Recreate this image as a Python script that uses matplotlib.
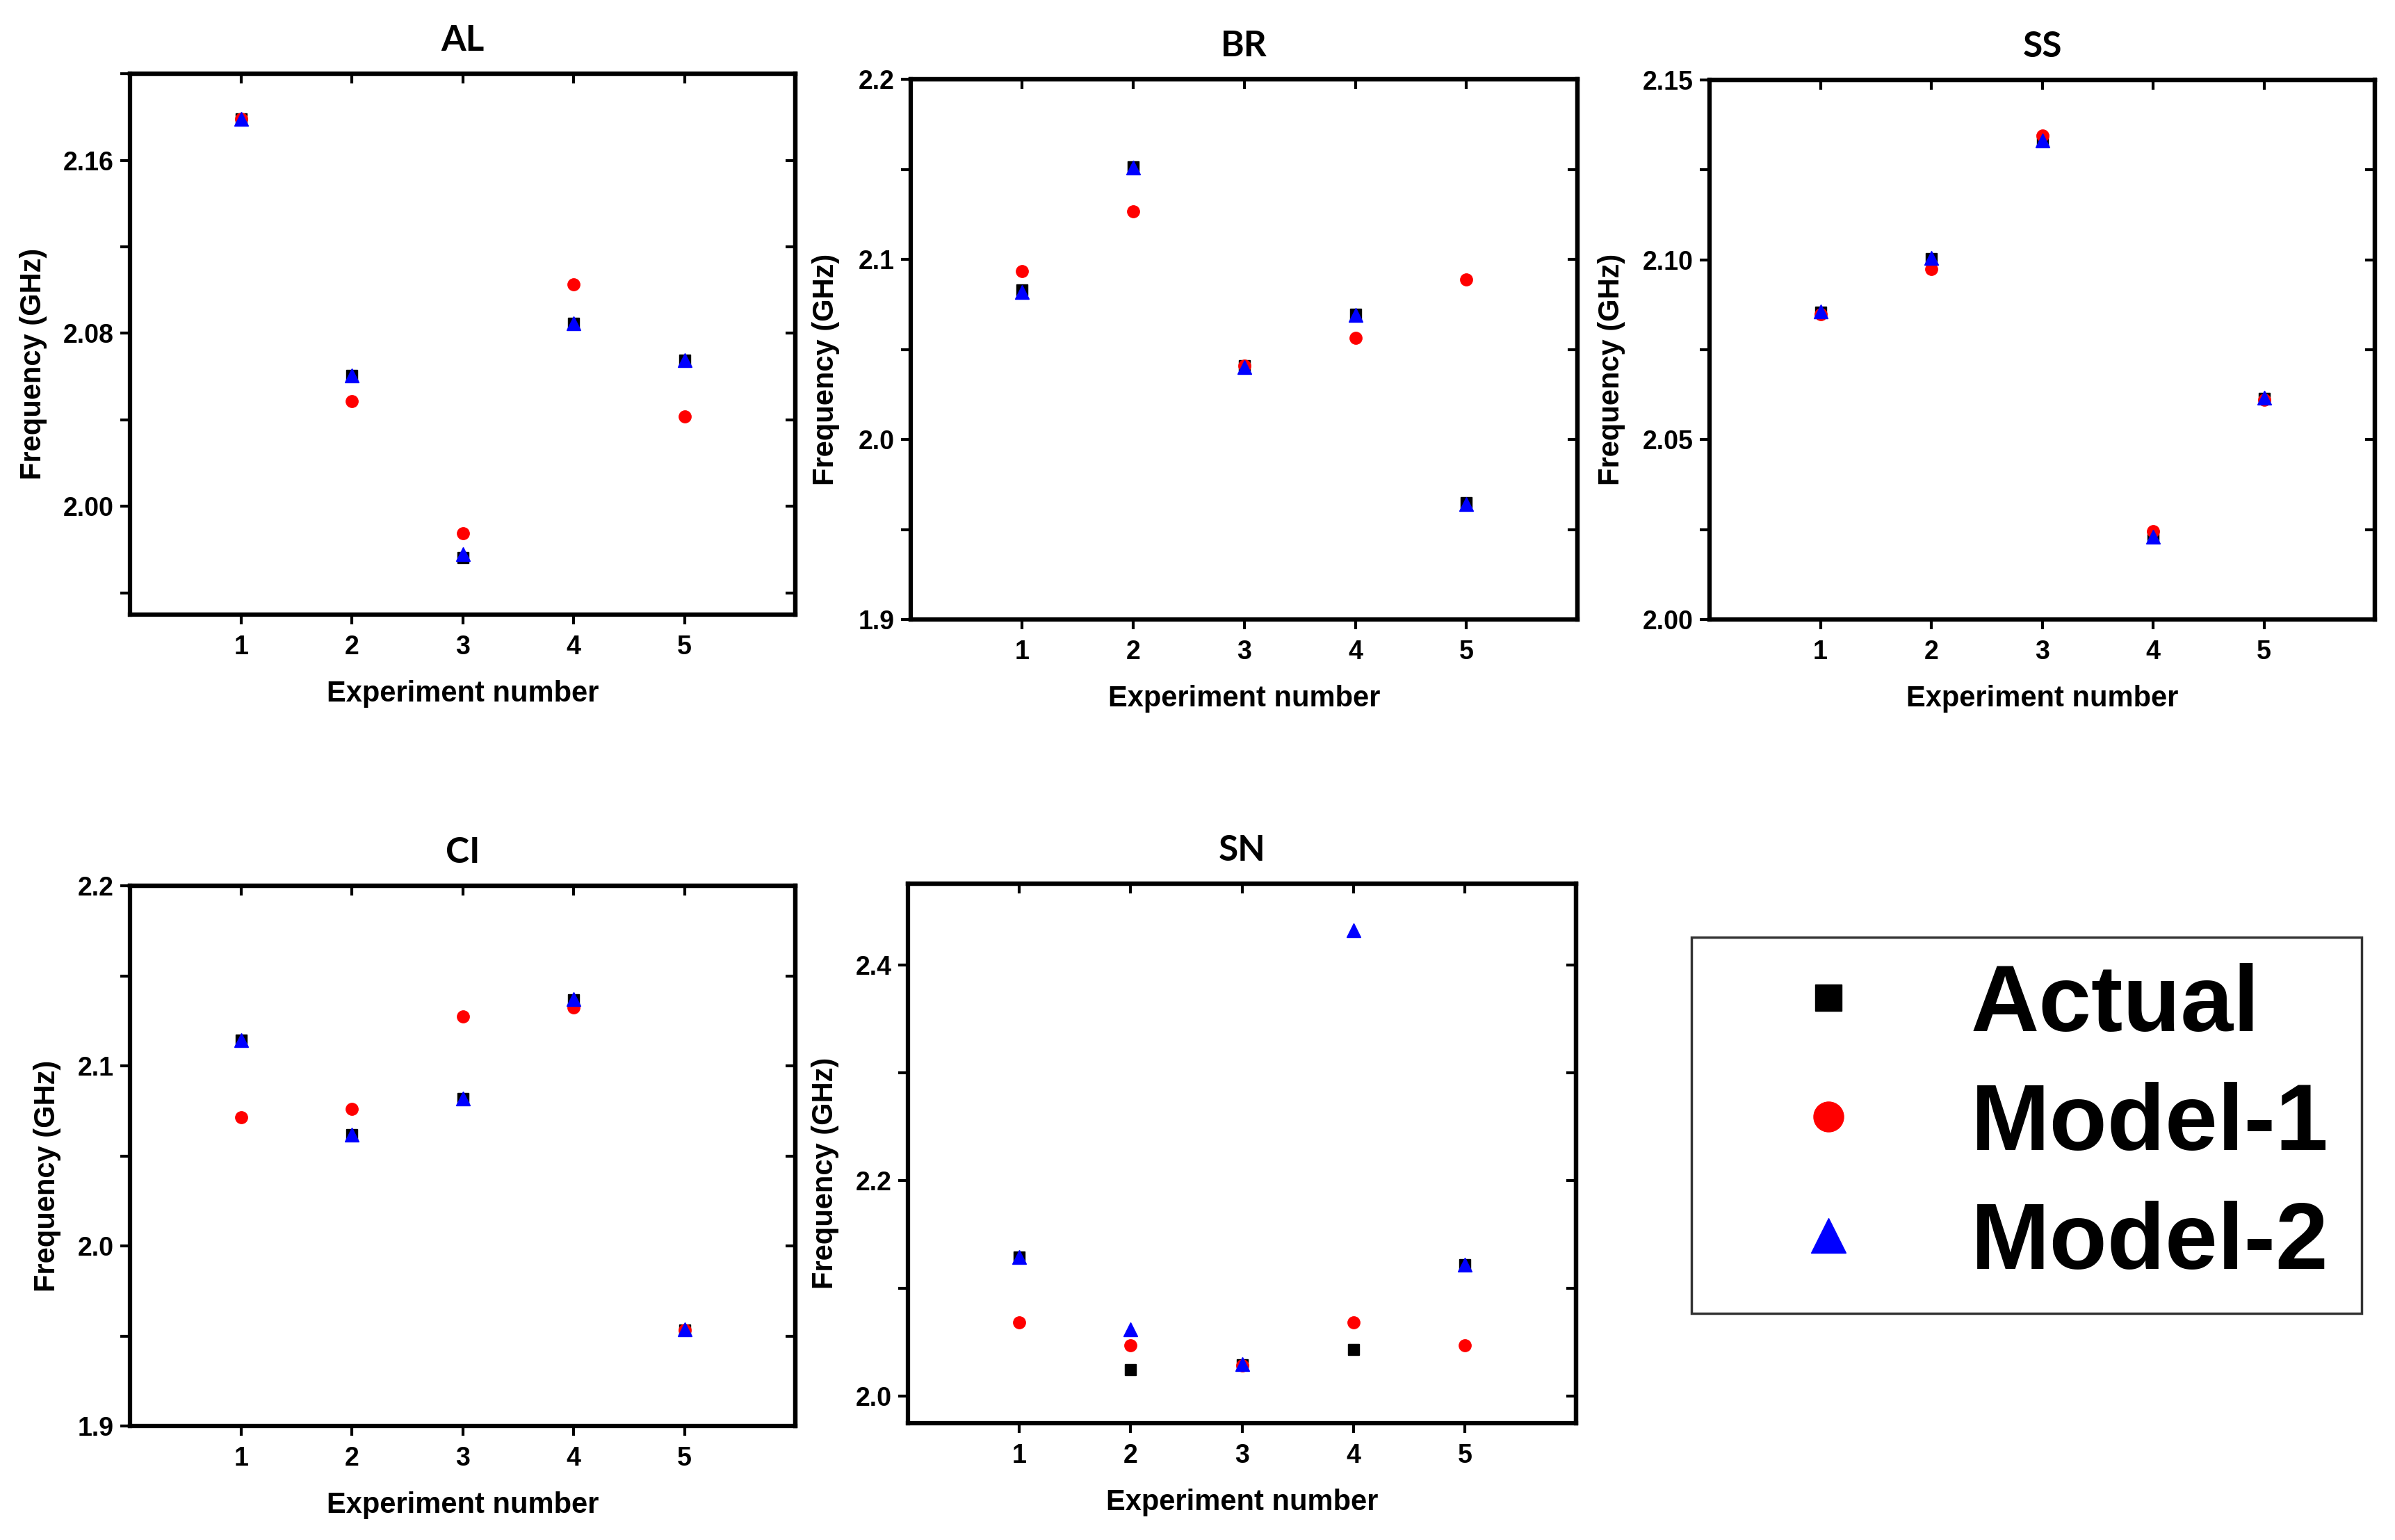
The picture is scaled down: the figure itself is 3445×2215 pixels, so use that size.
import numpy as np
import matplotlib.pyplot as plt
from matplotlib.ticker import MultipleLocator, FormatStrFormatter
from matplotlib.lines import Line2D

plt.rcParams['font.family'] = ['Liberation Sans', 'DejaVu Sans']
plt.rcParams['font.weight'] = 'bold'

experiments = [1, 2, 3, 4, 5]

# AL
al_actual = [2.179, 2.0605, 1.9765, 2.0848, 2.0675]
al_model1 = [2.179, 2.0486, 1.9875, 2.1027, 2.0415]
al_model2 = [2.179, 2.0605, 1.9780, 2.0848, 2.0675]
# BR
br_actual = [2.083, 2.1513, 2.041, 2.0697, 1.9648]
br_model1 = [2.0935, 2.1267, 2.041, 2.0565, 2.0889]
br_model2 = [2.082, 2.1510, 2.040, 2.0690, 1.9640]
# SS
ss_actual = [2.0855, 2.1004, 2.1335, 2.0232, 2.0615]
ss_model1 = [2.0849, 2.0974, 2.1345, 2.0245, 2.0612]
ss_model2 = [2.0857, 2.1005, 2.1333, 2.0231, 2.0617]
# CI
ci_actual = [2.1144, 2.0619, 2.0819, 2.1367, 1.9535]
ci_model1 = [2.0714, 2.0759, 2.1276, 2.1323, 1.9532]
ci_model2 = [2.1143, 2.0617, 2.0817, 2.1370, 1.9537]
# SN
sn_actual = [2.1289, 2.0249, 2.0292, 2.0436, 2.1223]
sn_model1 = [2.0685, 2.0475, 2.0285, 2.0685, 2.0475]
sn_model2 = [2.1289, 2.0619, 2.0300, 2.4318, 2.1223]

labels = ["Actual", "Model-1", "Model-2"]

panels = [
    ("AL", al_actual, al_model1, al_model2),
    ("BR", br_actual, br_model1, br_model2),
    ("SS", ss_actual, ss_model1, ss_model2),
    ("CI", ci_actual, ci_model1, ci_model2),
    ("SN", sn_actual, sn_model1, sn_model2),
]

# axes rectangles, y range, major/minor step, tick format, ylabel x position
layout = [
    ([0.0543, 0.6009, 0.2778, 0.3512], (1.95, 2.20), 0.08, 0.04, '%.2f', -0.124),
    ([0.3803, 0.5977, 0.2784, 0.3508], (1.90, 2.20), 0.1, 0.05, '%.1f', -0.107),
    ([0.7138, 0.5977, 0.2778, 0.3503], (2.00, 2.15), 0.05, 0.025, '%.2f', -0.126),
    ([0.0543, 0.0740, 0.2778, 0.3508], (1.90, 2.20), 0.1, 0.05, '%.1f', -0.104),
    ([0.3791, 0.0758, 0.2790, 0.3503], (1.975, 2.475), 0.2, 0.1, '%.1f', -0.103),
]

fig = plt.figure(figsize=(34.45, 22.15), dpi=100)

for (name, act, m1, m2), (rect, ylim, major, minor, fmt, ylx) in zip(panels, layout):
    ax = fig.add_axes(rect)
    ax.plot(experiments, act, ls='none', marker='s', color='black', ms=11)
    ax.plot(experiments, m1, ls='none', marker='o', color='red', ms=12.5)
    ax.plot(experiments, m2, ls='none', marker='^', color='blue', ms=14)

    ax.set_xlim(0, 6)
    ax.set_ylim(*ylim)
    ax.set_xticks(experiments)
    ax.yaxis.set_major_locator(MultipleLocator(major))
    ax.yaxis.set_minor_locator(MultipleLocator(minor))
    ax.yaxis.set_major_formatter(FormatStrFormatter(fmt))
    ax.tick_params(which='both', direction='out', length=10, width=3, labelsize=27)
    ax.tick_params(axis='x', pad=11)
    ax.tick_params(axis='y', pad=7)
    for sp in ax.spines.values():
        sp.set_linewidth(4.5)

    # mirrored inward ticks on top / right
    top = ax.secondary_xaxis('top')
    top.set_xticks(experiments)
    top.tick_params(direction='in', length=10, width=3, labeltop=False)
    top.spines['top'].set_linewidth(4.5)
    right = ax.secondary_yaxis('right')
    right.yaxis.set_major_locator(MultipleLocator(major))
    right.yaxis.set_minor_locator(MultipleLocator(minor))
    right.tick_params(which='both', direction='in', length=10, width=3, labelright=False)
    right.spines['right'].set_linewidth(4.5)

    ax.set_title(name, fontsize=37, fontweight='bold', family=['Lato', 'DejaVu Sans'], pad=24)
    ax.set_xlabel("Experiment number", fontsize=30, fontweight='bold')
    ax.set_ylabel("Frequency (GHz)", fontsize=30, fontweight='bold')
    ax.xaxis.set_label_coords(0.5, -0.121)
    ax.yaxis.set_label_coords(ylx, 0.463)

handles = [
    Line2D([], [], ls='none', marker='s', color='black', ms=27),
    Line2D([], [], ls='none', marker='o', color='red', ms=31),
    Line2D([], [], ls='none', marker='^', color='blue', ms=36),
]
leg = fig.legend(handles, labels, loc='upper left',
                 bbox_to_anchor=(0.7063, 0.1549, 0.2798, 0.2365), mode='expand',
                 prop={'family': 'Liberation Sans', 'weight': 'bold', 'size': 98},
                 frameon=True, fancybox=False, edgecolor='#333333', framealpha=1,
                 borderpad=0.27, handlelength=2.35, handletextpad=0.33,
                 labelspacing=0.33, borderaxespad=0)
leg.get_frame().set_linewidth(2.5)

fig.savefig("out.png", dpi=100)
